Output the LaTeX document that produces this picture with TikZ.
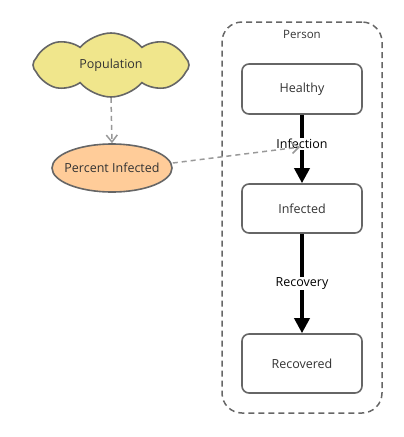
\documentclass[tikz,border=0pt]{standalone}
\usepackage{fontspec}
\setmainfont{Open Sans}
\usetikzlibrary{shapes.symbols,shapes.geometric,arrows.meta}
\definecolor{strokegray}{HTML}{666666}
\definecolor{textgray}{HTML}{333333}
\definecolor{khaki}{HTML}{F0E68C}
\definecolor{peach}{HTML}{FFCC99}
\definecolor{dashgray}{HTML}{999999}
\begin{document}
\begin{tikzpicture}[x=1pt,y=-1pt,
  txt/.style={text=textgray,font=\fontsize{12.5}{14}\selectfont},
  statebox/.style={draw=strokegray,line width=1.6pt,rounded corners=7pt,fill=white,
    minimum width=120pt,minimum height=50pt,inner sep=0pt,txt},
  flowarrow/.style={line width=3.5pt,-{Triangle[length=15pt,width=15pt]}},
  infoarrow/.style={draw=dashgray,line width=1.5pt,dash pattern=on 5pt off 4pt,-{Straight Barb[length=7pt,width=11pt]}},
  flowlabel/.style={fill=white,inner sep=1pt,text=black,font=\fontsize{12.5}{14}\selectfont}]
\useasboundingbox (0,0) rectangle (404,437);
% container
\node[draw=strokegray,line width=1.5pt,dash pattern=on 6pt off 4pt,rounded corners=20pt,
  minimum width=160pt,minimum height=391pt,inner sep=0pt] (person) at (302,217.5) {};
\node[text=textgray,font=\fontsize{11.5}{13}\selectfont] (personlabel) at (302,34) {Person};
% states
\node[statebox] (healthy) at (302,89) {Healthy};
\node[statebox,minimum height=49pt] (infected) at (302,208.5) {Infected};
\node[statebox,minimum height=59pt] (recovered) at (302,363.5) {Recovered};
% flows
\draw[flowarrow] (healthy.south) -- node[flowlabel,pos=0.43] (inflabel) {Infection} (infected.north);
\draw[flowarrow] (infected.south) -- node[flowlabel,pos=0.5] (reclabel) {Recovery} (recovered.north);
% cloud
\node[cloud,cloud puffs=8,cloud puff arc=100,aspect=2.6,draw=strokegray,line width=1.6pt,fill=khaki,
  minimum width=156pt,minimum height=64pt,inner sep=0pt,txt] (population) at (111,65) {Population};
% ellipse
\node[ellipse,draw=strokegray,line width=1.6pt,fill=peach,minimum width=120pt,minimum height=48pt,
  inner xsep=-14pt,inner ysep=0pt,txt] (percent) at (112,168) {Percent Infected};
\coordinate (infend) at (300,147);
\draw[infoarrow] (population.south) -- (percent.north);
\draw[infoarrow] (percent.east) ++(0,-5) -- (infend);
\end{tikzpicture}
\end{document}
